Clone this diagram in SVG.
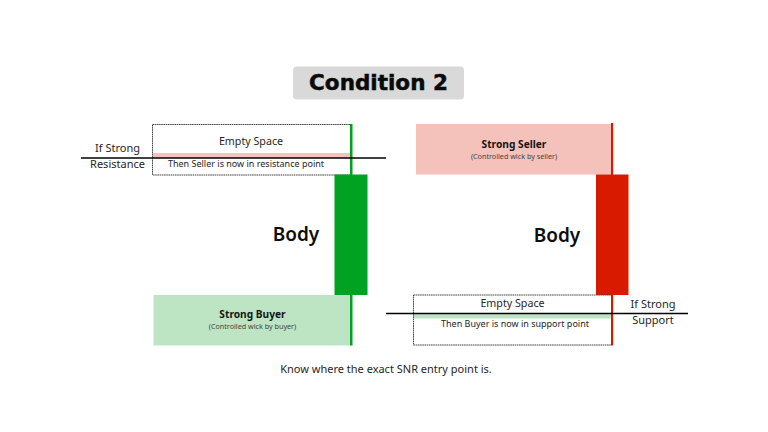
<svg xmlns="http://www.w3.org/2000/svg" width="768" height="432" viewBox="0 0 768 432">
<style>
text{font-family:"Noto Sans","Open Sans",sans-serif;text-anchor:middle;fill:#262626}
.lab{font-size:10.700px}
.side{font-size:11px}
.strong{font-size:10.200px;font-weight:700;fill:#151515}
.small{font-size:7.200px;fill:#444}
.body{font-size:19px;font-weight:600;fill:#0d0d0d}
.dash{fill:#fff;stroke:#444;stroke-width:1;stroke-dasharray:1.600 .6}
.level{stroke:#000;stroke-width:1.600}
</style>
<rect width="768" height="432" fill="#fff"/>
<g id="title">
<rect x="293" y="66.500" width="171" height="33" rx="4" fill="#d9d9d9"/>
<text x="378.500" y="90" style="font-family:'DejaVu Sans',sans-serif;font-size:21.500px;font-weight:700;fill:#0a0a0a;stroke:#0a0a0a;stroke-width:.5">Condition 2</text>
</g>
<g id="node-left-empty">
<rect class="dash" x="152.500" y="124.500" width="198" height="50.500"/>
<rect x="153" y="153" width="197" height="5" fill="#f4c1bb"/>
<text class="lab" x="251" y="145">Empty Space</text>
<text x="246" y="167" style="font-size:9px">Then Seller is now in resistance point</text>
</g>
<g id="node-left-candle">
<rect x="350" y="124" width="2.500" height="51" fill="#00a321"/>
<rect x="334.500" y="174.500" width="33" height="120.500" fill="#00a321"/>
<text class="body" x="296" y="241">Body</text>
</g>
<g id="node-left-label">
<text class="side" x="117.500" y="152">If Strong</text>
<text class="side" x="117.500" y="168">Resistance</text>
</g>
<g id="node-buyer">
<rect x="153.500" y="295" width="197" height="50.500" fill="#bde5c3"/>
<rect x="350" y="295" width="2.500" height="50.500" fill="#00a321"/>
<text class="strong" x="252.500" y="318">Strong Buyer</text>
<text class="small" x="252.500" y="329">(Controlled wick by buyer)</text>
</g>
<g id="node-seller">
<rect x="416" y="124" width="196" height="50.500" fill="#f4c1bb"/>
<rect x="611" y="123" width="2.200" height="52" fill="#d81b00"/>
<text class="strong" x="514" y="148">Strong Seller</text>
<text class="small" x="514" y="159">(Controlled wick by seller)</text>
</g>
<g id="node-right-candle">
<rect x="596" y="174.500" width="32.500" height="120.500" fill="#d81b00"/>
<text class="body" x="557" y="242">Body</text>
</g>
<g id="node-right-empty">
<rect class="dash" x="413.500" y="295" width="198" height="50"/>
<rect x="414" y="314" width="197" height="4.500" fill="#bde5c3"/>
<rect x="611" y="295" width="2.200" height="50.500" fill="#d81b00"/>
<text class="lab" x="512.500" y="307">Empty Space</text>
<text x="515" y="327" style="font-size:9px">Then Buyer is now in support point</text>
</g>
<g id="node-right-label">
<text class="side" x="653" y="308">If Strong</text>
<text class="side" x="653" y="324">Support</text>
</g>
<g id="connectors">
<line class="level" x1="81" y1="158" x2="386" y2="158"/>
<line class="level" x1="386" y1="313.500" x2="688" y2="313.500"/>
</g>
<g id="caption">
<text x="386" y="373" style="font-size:11px">Know where the exact SNR entry point is.</text>
</g>
</svg>
